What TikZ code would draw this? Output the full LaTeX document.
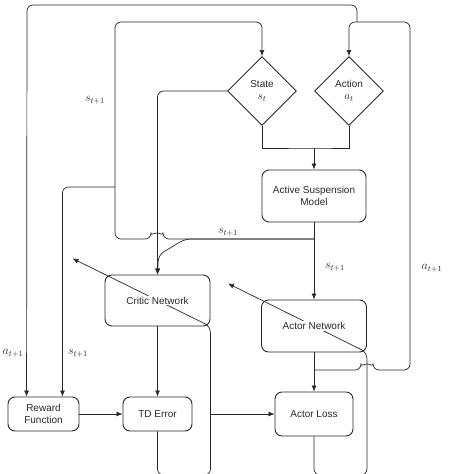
\documentclass[tikz,border=0pt]{standalone}
\usepackage{fontspec}
\setmainfont{Liberation Sans}
\usetikzlibrary{positioning,shapes.geometric,arrows.meta,backgrounds}
\definecolor{linegray}{RGB}{40,40,40}
\newcommand{\txtbg}[1]{{\setlength{\fboxsep}{1pt}\colorbox{white}{#1}}}

\begin{document}
\begin{tikzpicture}[x=1pt,y=1pt,
		every node/.style={font=\fontsize{10}{12}\selectfont, text=linegray},
		block/.style={draw=linegray, rounded corners=7pt, line width=0.9pt, align=center, inner sep=2pt},
		decision/.style={draw=linegray, diamond, minimum width=69pt, minimum height=69pt, inner sep=0pt, align=center, line width=0.9pt},
		flow/.style={draw=linegray, line width=0.7pt, rounded corners=6pt},
		arrow/.style={flow, -{Latex[length=6pt,width=5pt]}},
		lbl/.style={font=\fontsize{11.5}{13}\selectfont}
		]
		\useasboundingbox (0,0) rectangle (474,474);
		\node[decision] (state) at (262,383) {State\\\fontsize{11}{13}\selectfont$s_t$};
		\node[decision] (action) at (349,383) {Action\\\fontsize{11}{13}\selectfont$a_t$};
		\node[block, minimum width=104pt, minimum height=52pt] (asm) at (314,278) {Active Suspension\\Model};
		\node[block, minimum width=105pt, minimum height=51pt] (critic) at (157.5,173.5) {\txtbg{Critic Network}};
		\node[block, minimum width=105pt, minimum height=52pt] (actor) at (314,148) {\txtbg{Actor Network}};
		\node[block, minimum width=71pt, minimum height=34pt] (reward) at (43.5,60) {Reward\\Function};
		\node[block, minimum width=69pt, minimum height=34pt] (tderr) at (157.5,60) {TD Error};
		\node[block, minimum width=78pt, minimum height=44pt] (aloss) at (314,60) {Actor Loss};

		\coordinate (join) at (314,326);
		\coordinate (sSplit) at (314,235);
		\coordinate (sUp) at (115,235);
		\coordinate (sTop) at (115,452);
		\coordinate (sRew) at (115,287);
		\coordinate (aSplit) at (314,104);
		\coordinate (aRight) at (410,104);
		\coordinate (aTop) at (410,452);
		\coordinate (aOuter) at (357,452);
		\coordinate (aLeft) at (27,469);

		\draw[flow, sharp corners] (state.south) |- (join) -| (action.south);
		\draw[arrow] (join) -- (asm.north);
		\draw[arrow] (asm.south) -- (actor.north);
		\draw[arrow] (state.west) -| (critic.north);
		\draw[arrow] (sSplit) -- (163,235) arc[start angle=0, end angle=180, radius=6] -- (sUp) -- (sTop) -| (state.north);
		\draw[arrow] (sSplit) -- (185,235) -- (158.5,219) -- (critic.north);
		\draw[arrow] (sRew) -| ([xshift=-17pt]reward.north east);
		\draw[arrow] (actor.south) -- (aloss.north);
		\draw[arrow] (aSplit) -- (361,104) arc[start angle=180, end angle=0, radius=6] -- (aRight) -- (aTop) -| (action.north);
		\draw[arrow] (aOuter) |- (aLeft) -- ([xshift=19pt]reward.north west);
		\draw[arrow] (reward.east) -- (tderr.west);
		\draw[arrow] (critic.south) -- (tderr.north);
		\draw[arrow] (aloss.west -| critic.south east) -- (aloss.west);

		\node[lbl] (sLblTop) at (95,374) {$s_{t+1}$};
		\node[lbl] (sLblMid) at (228,242) {$s_{t+1}$};
		\node[lbl] (sLblAsm) at (335,207) {$s_{t+1}$};
		\node[lbl] (sLblRew) at (78,121) {$s_{t+1}$};
		\node[lbl] (aLblRew) at (13,121) {$a_{t+1}$};
		\node[lbl] (aLblRight) at (432,206) {$a_{t+1}$};

		\begin{pgfonlayer}{background}
			\draw[arrow] (tderr.south) -- (157.5,-1) -| (critic.south east) -- ++(-138,68);
			\draw[arrow] (aloss.south) -- (314,-1) -| (actor.south east) -- ++(-139,69);
		\end{pgfonlayer}
\end{tikzpicture}
\end{document}
